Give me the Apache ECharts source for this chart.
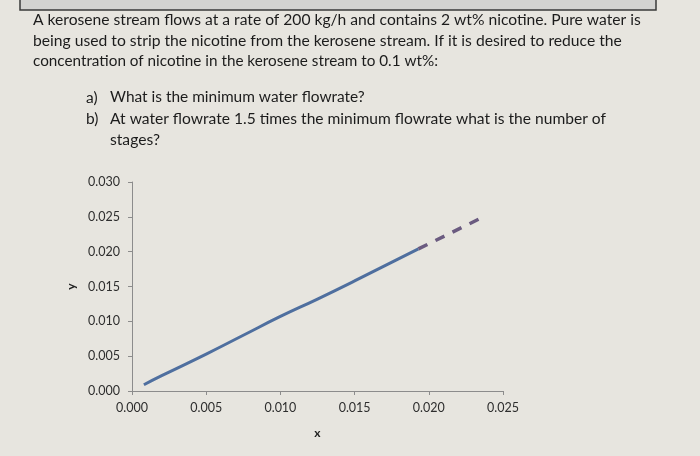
<!DOCTYPE html>
<html>
<head>
<meta charset="utf-8">
<script src="https://cdn.jsdelivr.net/npm/echarts@6/dist/echarts.min.js"></script>
<style>
  html, body { margin: 0; padding: 0; background: #e7e5df; }
  #chart { width: 700px; height: 456px; }
</style>
</head>
<body>
<div id="chart"></div>
<script>
// equilibrium curve
const xSolid = [0.0008, 0.002, 0.005, 0.0075, 0.010, 0.0125, 0.015, 0.0193];
const ySolid = [0.0009, 0.0022, 0.0053, 0.0080, 0.0107, 0.0132, 0.0158, 0.0204];
const xDash = [0.0193, 0.0234];
const yDash = [0.0204, 0.0247];

const questionLines = [
  'A kerosene stream flows at a rate of 200 kg/h and contains 2 wt% nicotine. Pure water is',
  'being used to strip the nicotine from the kerosene stream. If it is desired to reduce the',
  'concentration of nicotine in the kerosene stream to 0.1 wt%:'
];
const partLabels = ['a)', 'b)', ''];
const partLines = [
  'What is the minimum water flowrate?',
  'At water flowrate 1.5 times the minimum flowrate what is the number of',
  'stages?'
];

const FONT = 'Lato, "Open Sans", sans-serif';
const ctx = document.createElement('canvas').getContext('2d');
function fitSize(text, width) {
  ctx.font = '16px ' + FONT;
  return 16 * width / ctx.measureText(text).width;
}

const textColor = '#1c1c1c';
const graphics = [
  // edge of the box above the question
  { type: 'rect', shape: { x: 20, y: -10, width: 636, height: 20 },
    style: { fill: '#d3d3d1', stroke: '#3a3a3a', lineWidth: 1.5 } }
];
const qWidths = [608, 589, 405];
const qY = [22, 43, 64];
questionLines.forEach((t, i) => {
  graphics.push({ type: 'text', left: 33, top: qY[i] - 10,
    style: { text: t, fill: textColor, font: fitSize(t, qWidths[i]).toFixed(2) + 'px ' + FONT } });
});
const pWidths = [255, 496, 50];
const pY = [100, 121, 142];
partLines.forEach((t, i) => {
  const size = 15.5;
  if (partLabels[i]) {
    graphics.push({ type: 'text', left: 86, top: pY[i] - 10,
      style: { text: partLabels[i], fill: textColor, font: size + 'px ' + FONT } });
  }
  graphics.push({ type: 'text', left: 110, top: pY[i] - 10,
    style: { text: t, fill: textColor, font: fitSize(t, pWidths[i]).toFixed(2) + 'px ' + FONT } });
});

const chart = echarts.init(document.getElementById('chart'));
chart.setOption({
  backgroundColor: '#e7e5df',
  animation: false,
  graphic: graphics,
  grid: { left: 132, right: 197, top: 182, bottom: 65 },
  xAxis: {
    type: 'value', min: 0, max: 0.025, interval: 0.005,
    name: 'x', nameLocation: 'middle', nameGap: 36,
    nameTextStyle: { color: '#222', fontSize: 12, fontWeight: 'bold', fontFamily: FONT },
    axisLine: { lineStyle: { color: '#8c8c8c', width: 1 } },
    axisTick: { show: true, length: 4, lineStyle: { color: '#8c8c8c' } },
    axisLabel: { color: '#2e2e2e', fontSize: 12.5, fontFamily: FONT, margin: 10,
      formatter: v => v.toFixed(3) },
    splitLine: { show: false }
  },
  yAxis: {
    type: 'value', min: 0, max: 0.03, interval: 0.005,
    name: 'y', nameLocation: 'middle', nameGap: 50, nameRotate: 90,
    nameTextStyle: { color: '#222', fontSize: 12, fontWeight: 'bold', fontFamily: FONT },
    axisLine: { show: true, lineStyle: { color: '#8c8c8c', width: 1 } },
    axisTick: { show: true, length: 4, lineStyle: { color: '#8c8c8c' } },
    axisLabel: { color: '#2e2e2e', fontSize: 12.5, fontFamily: FONT, margin: 12,
      formatter: v => v.toFixed(3) },
    splitLine: { show: false }
  },
  series: [
    {
      type: 'line', smooth: true, symbol: 'none',
      data: xSolid.map((x, i) => [x, ySolid[i]]),
      lineStyle: { color: '#4f6f9f', width: 3 }
    },
    {
      type: 'line', symbol: 'none',
      data: xDash.map((x, i) => [x, yDash[i]]),
      lineStyle: { color: '#6b5b80', width: 3.5, type: [10, 9] }
    }
  ]
});
</script>
</body>
</html>
